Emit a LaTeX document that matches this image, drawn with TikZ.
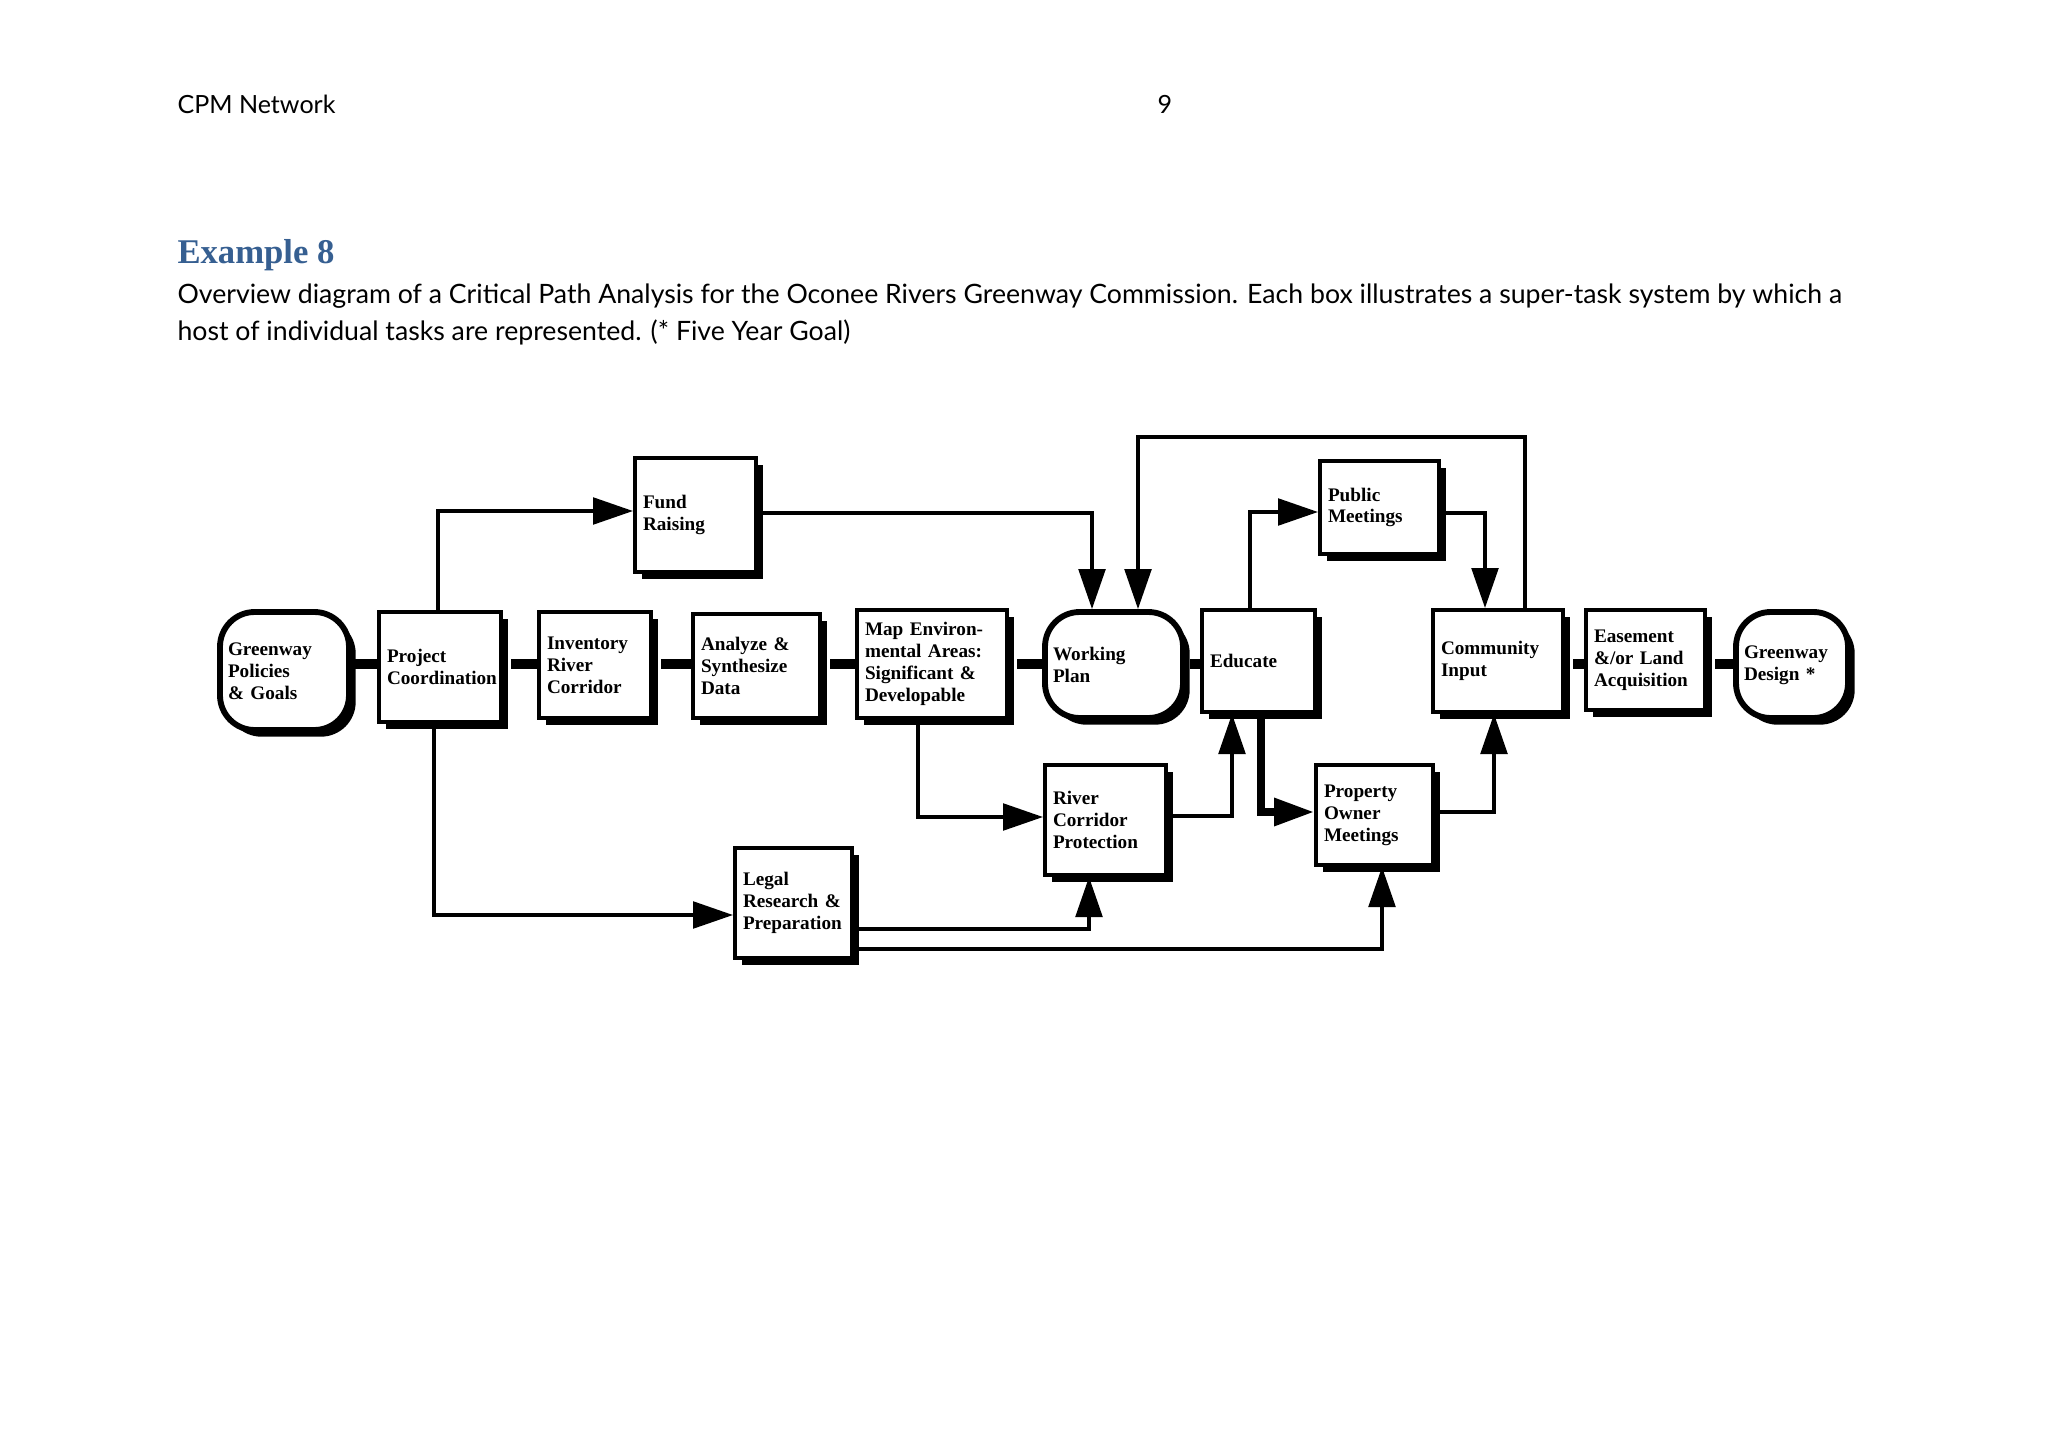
\documentclass[tikz,border=0pt]{standalone}
\usepackage{fontspec}
\setmainfont{Liberation Serif}
\newfontfamily\hdrfont{Lato}
\newfontfamily\exfont{Liberation Serif}
\usetikzlibrary{arrows.meta,shadows,calc}
\definecolor{exblue}{HTML}{365F91}
\tikzset{
  box/.style={draw,line width=1.5pt,fill=white,align=left,inner sep=3pt,
    font=\bfseries\fontsize{7.2}{8.2}\selectfont,
    drop shadow={shadow xshift=2.5pt,shadow yshift=-2.5pt,fill=black,opacity=1}},
  rbox/.style={box,rounded corners=13pt,line width=2.2pt},
  link/.style={line width=4pt},
  conn/.style={line width=1.3pt,-{Triangle[length=15pt,width=10pt]}},
}
\newcommand{\bx}[7][box]{%
  \node[#1,minimum width={(#5-#3)*0.375pt},minimum height={(#6-#4)*0.375pt},
    text width={(#5-#3)*0.375pt-6pt}] (#2) at ({(#3+#5)/2},{(#4+#6)/2}) {#7};}
\begin{document}
\begin{tikzpicture}[x=0.375pt,y=-0.375pt]
\useasboundingbox (0,0) rectangle (2048,1448);
\node[anchor=west,inner sep=0pt,font=\hdrfont\fontsize{9.4}{11}\selectfont] (h1) at (177,104) {CPM Network};
\node[font=\hdrfont\fontsize{9.4}{11}\selectfont] (h2) at (1165,104) {9};
\node[anchor=west,inner sep=0pt,font=\exfont\bfseries\fontsize{13}{15}\selectfont,text=exblue] (ex) at (177,255) {Example 8};
\node[anchor=north west,align=left,inner sep=0pt,font=\hdrfont\fontsize{10}{13.9}\selectfont] (capt) at (177,283)
 {Overview diagram of a Critical Path Analysis for the Oconee Rivers Greenway Commission. Each box illustrates a super-task system by which a\\host of individual tasks are represented. (* Five Year Goal)};

\bx[rbox]{gp}{220}{612}{349}{730}{Greenway\\Policies\\\& Goals}
\bx{pc}{379}{612}{501}{722}{Project\\Coordination}
\bx{ir}{539}{612}{651}{718}{Inventory\\River\\Corridor}
\bx{an}{693}{614}{820}{718}{Analyze \&\\Synthesize\\Data}
\bx{me}{857}{610}{1007}{718}{Map Environ-\\mental Areas:\\Significant \&\\Developable}
\bx[rbox]{wp}{1045}{612}{1183}{718}{Working\\Plan}
\bx{ed}{1202}{610}{1315}{712}{Educate\\[4pt]}
\bx{ci}{1433}{610}{1563}{712}{Community\\Input}
\bx{ea}{1586}{610}{1705}{710}{Easement\\\&/or Land\\Acquisition}
\bx[rbox]{gd}{1736}{612}{1848}{718}{Greenway\\Design *}
\bx{fr}{635}{458}{756}{572}{Fund\\Raising\\[8pt]}
\bx{pm}{1320}{461}{1439}{554}{Public\\Meetings\\[4pt]}
\bx{rc}{1045}{765}{1166}{875}{River\\Corridor\\Protection}
\bx{po}{1316}{765}{1433}{865}{Property\\Owner\\Meetings\\[4pt]}
\bx{lr}{735}{848}{852}{958}{Legal\\Research \&\\Preparation}

\draw[link] (gp.east |- 0,664) -- (pc.west |- 0,664);
\draw[link] (pc.east |- 0,664) ++(8,0) -- (ir.west |- 0,664);
\draw[link] (ir.east |- 0,664) ++(8,0) -- (an.west |- 0,664);
\draw[link] (an.east |- 0,664) ++(8,0) -- (me.west |- 0,664);
\draw[link] (me.east |- 0,664) ++(8,0) -- (wp.west |- 0,664);
\draw[link] (wp.east |- 0,664) ++(4,0) -- (ed.west |- 0,664);
\draw[link] (ci.east |- 0,664) ++(8,0) -- (ea.west |- 0,664);
\draw[link] (ea.east |- 0,664) ++(8,0) -- (gd.west |- 0,664);

\draw[conn] (pc.north -| 438,0) |- (fr.west |- 0,511);
\draw[conn] (fr.east |- 0,513) -| (wp.north -| 1092,0);
\draw[conn] (ci.north -| 1525,0) |- (1138,437) -- (wp.north -| 1138,0);
\draw[conn] (ed.north -| 1250,0) |- (pm.west |- 0,512);
\draw[conn] (pm.east |- 0,513) -| (ci.north -| 1485,0);
\draw[conn] (me.south -| 918,0) |- (rc.west |- 0,817);
\draw[conn] (rc.east |- 0,816) -| (ed.south -| 1232,0);
\draw[conn,line width=2.8pt] (ed.south -| 1261,0) |- (po.west |- 0,812);
\draw[conn] (po.east |- 0,812) -| (ci.south -| 1494,0);
\draw[conn] (pc.south -| 434,0) |- (lr.west |- 0,915);
\draw[conn] (lr.east |- 0,929) -| (rc.south -| 1089,0);
\draw[conn] (lr.east |- 0,949) -| (po.south -| 1382,0);
\end{tikzpicture}
\end{document}
